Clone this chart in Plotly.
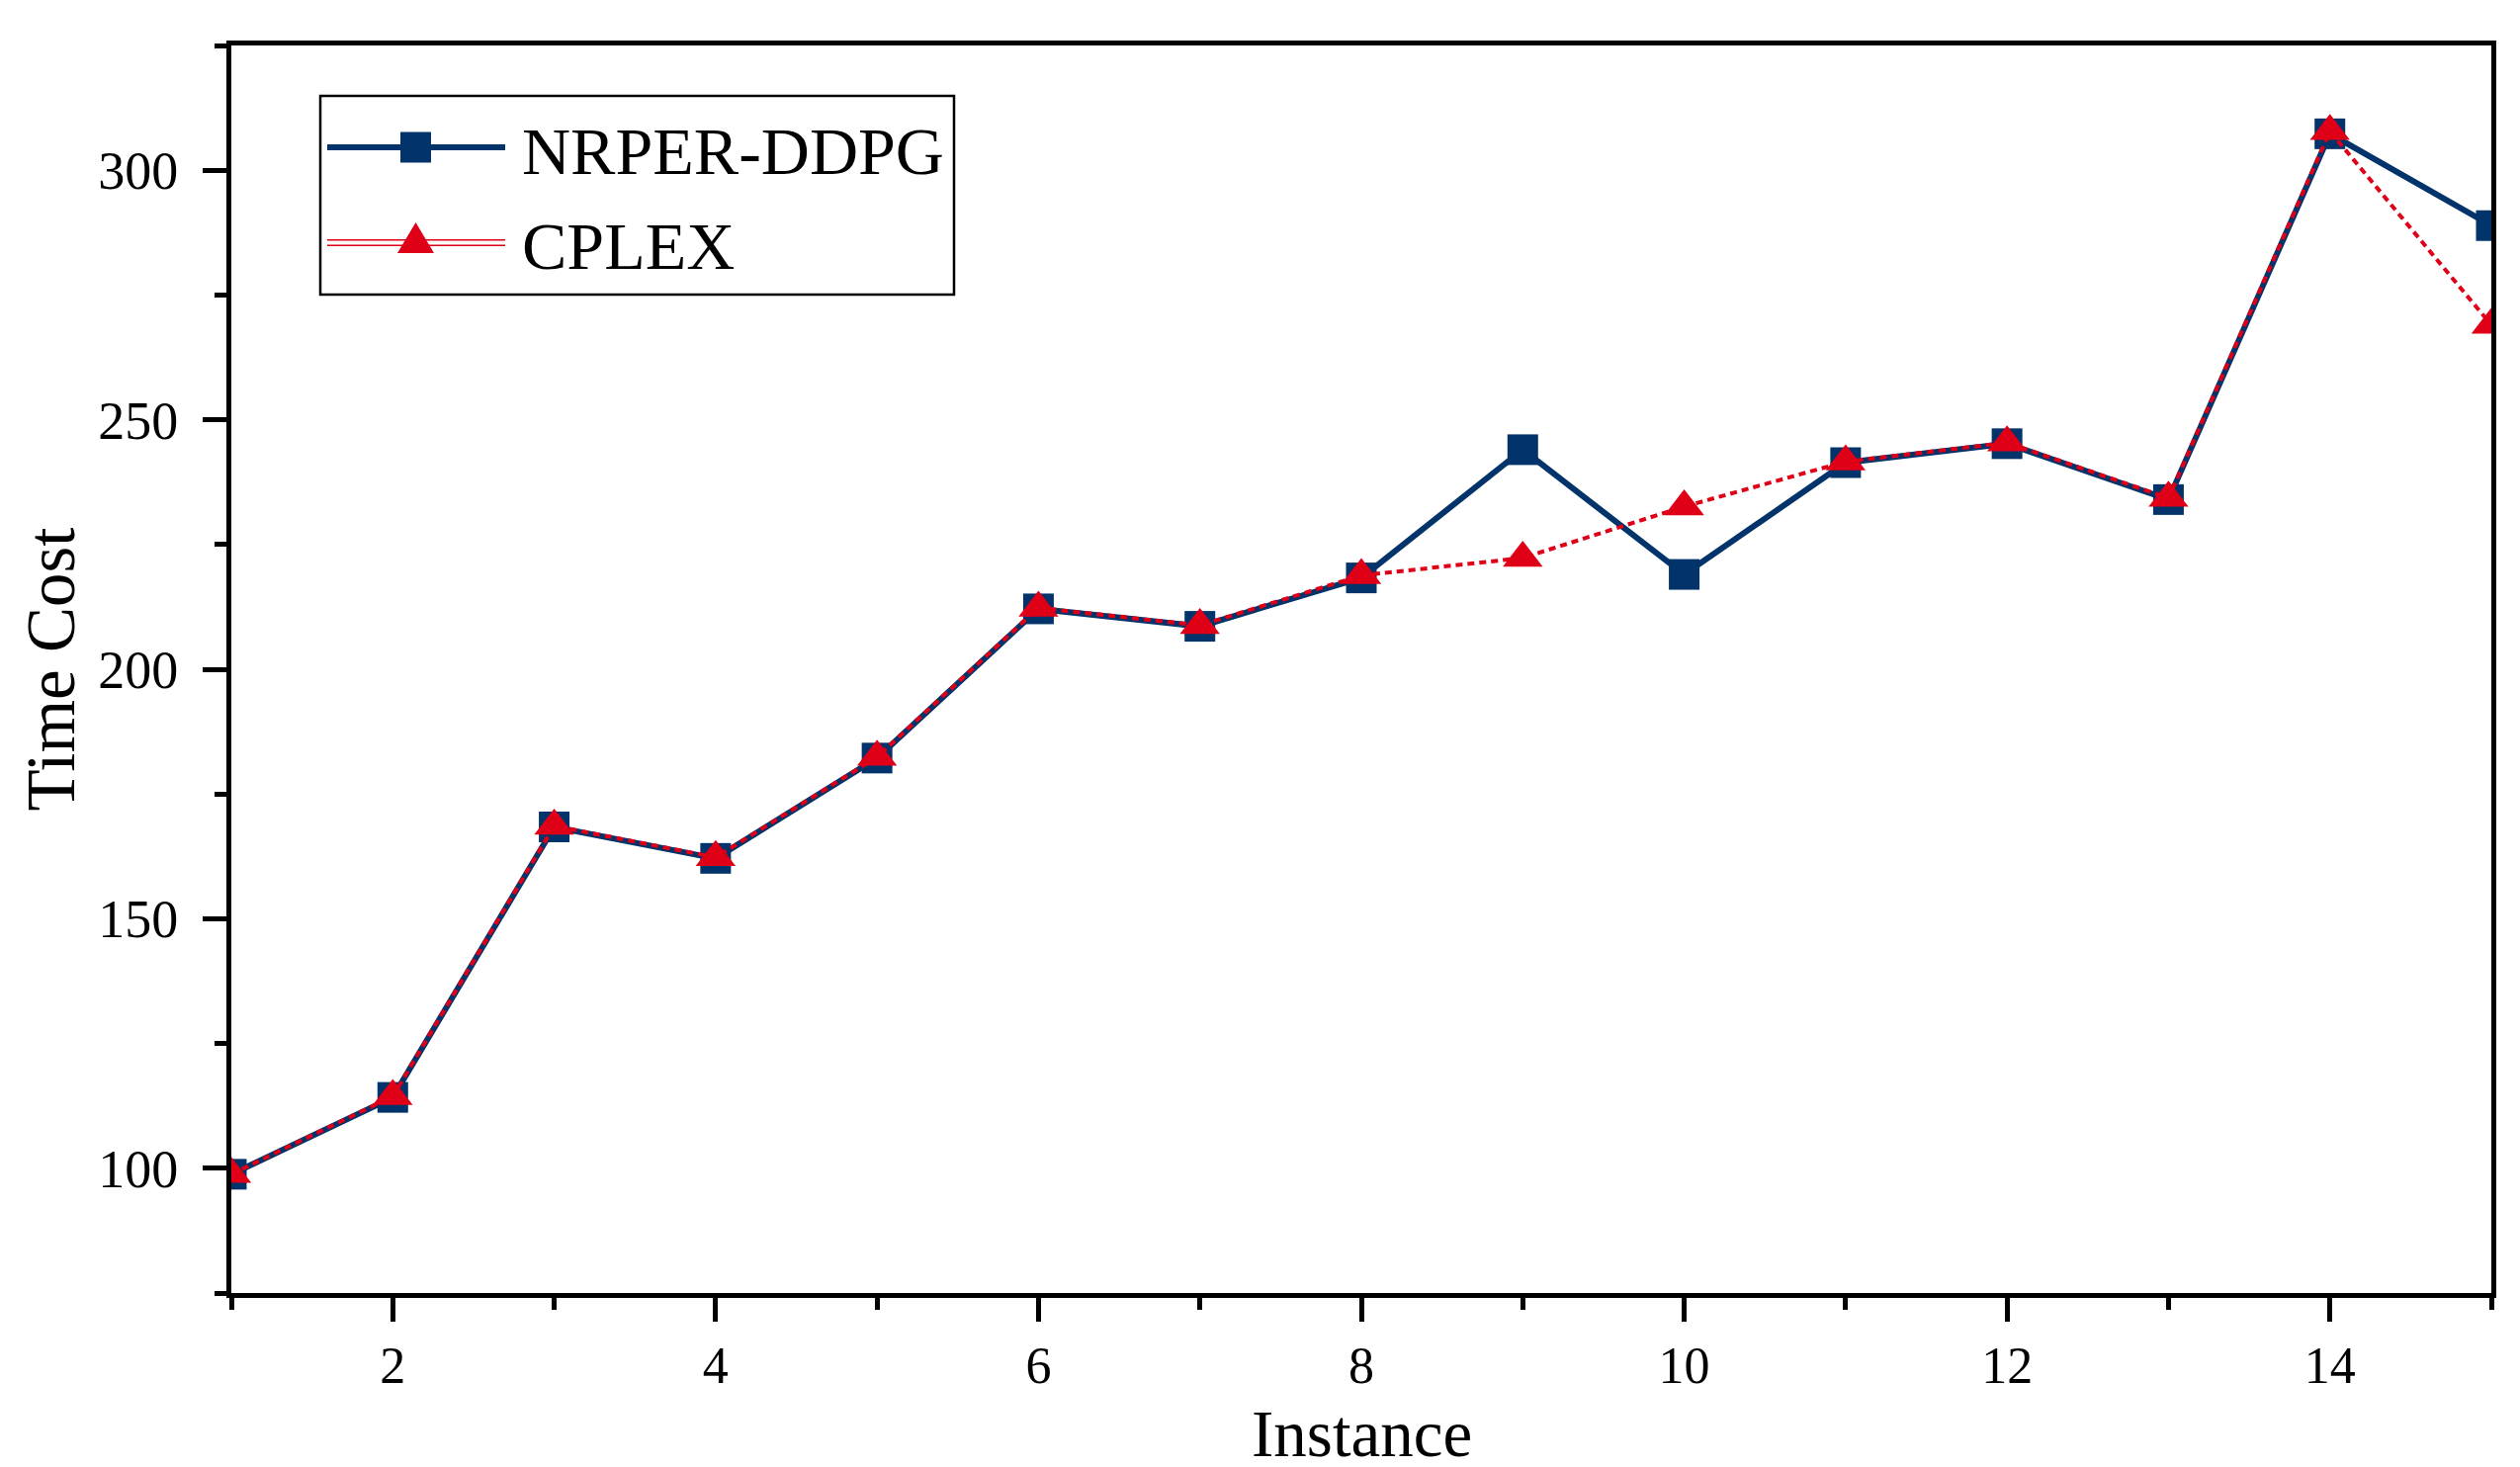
import plotly.graph_objects as go

instances = list(range(1, 16))
nrper_ddpg = [98.8, 114.2, 168.4, 162.1, 182.2, 212.1, 208.6, 218.3, 244.0, 219.0,
              241.4, 245.2, 234.0, 307.3, 288.9]
cplex = [98.8, 114.4, 168.6, 162.3, 182.4, 212.3, 208.8, 218.8, 222.3, 232.6,
         241.6, 245.4, 234.3, 307.8, 269.0]
series_names = ["NRPER-DDPG", "CPLEX"]
x_title = "Instance"
y_title = "Time Cost"

NAVY = "#02336A"
RED = "#DF0018"
FONT = "Liberation Serif"

W, H = 2549, 1484
ML, MR, MT, MB = 226, 37, 38, 184
PW, PH = W - ML - MR, H - MT - MB


def px(xp):
    return (xp - ML) / PW


def py(yp):
    return (H - MB - yp) / PH


fig = go.Figure()
fig.add_trace(go.Scatter(
    x=instances, y=nrper_ddpg, name=series_names[0], mode="lines+markers",
    line=dict(color=NAVY, width=6),
    marker=dict(symbol="square", size=31, color=NAVY),
    cliponaxis=True, showlegend=False,
))
fig.add_trace(go.Scatter(
    x=instances, y=cplex, name=series_names[1], mode="lines+markers",
    line=dict(color=RED, width=4, dash="7px,5px"),
    marker=dict(symbol="triangle-up", size=35, color=RED),
    cliponaxis=True, showlegend=False,
))

axis_common = dict(
    showline=True, linecolor="black", linewidth=5, mirror=True,
    ticks="outside", ticklen=24, tickwidth=5, tickcolor="black",
    showgrid=False, zeroline=False,
)

fig.update_xaxes(
    range=[1, 15], tick0=0, dtick=2,
    minor=dict(dtick=1, ticks="outside", ticklen=12, tickwidth=5, tickcolor="black"),
    ticklabelstandoff=0,
    tickfont=dict(family=FONT, size=52, color="black"),
    **axis_common,
)
fig.update_yaxes(
    range=[75, 325], tick0=0, dtick=50,
    minor=dict(dtick=25, ticks="outside", ticklen=12, tickwidth=5, tickcolor="black"),
    ticklabelstandoff=14,
    tickfont=dict(family=FONT, size=54, color="black"),
    title=dict(text=y_title, font=dict(family=FONT, size=69, color="black"), standoff=3),
    **axis_common,
)

# ---- legend drawn as a framed key box (pixel layout converted to paper coords) ----
shapes = []
annotations = []
box = dict(x0=316, x1=957, y0=89, y1=290)
shapes.append(dict(type="rect", xref="paper", yref="paper",
                   x0=px(box["x0"]), x1=px(box["x1"]), y0=py(box["y1"]), y1=py(box["y0"]),
                   line=dict(color="black", width=2.5), fillcolor="white", layer="above"))
r1 = 141
shapes.append(dict(type="line", xref="paper", yref="paper",
                   x0=px(323), x1=px(503), y0=py(r1), y1=py(r1),
                   line=dict(color=NAVY, width=6), layer="above"))
shapes.append(dict(type="rect", xref="paper", yref="paper",
                   x0=px(397), x1=px(428), y0=py(r1 + 15.5), y1=py(r1 - 15.5),
                   line=dict(width=0), fillcolor=NAVY, layer="above"))
r2 = 237.5
for dy in (-2.7, 2.7):
    shapes.append(dict(type="line", xref="paper", yref="paper",
                       x0=px(323), x1=px(503), y0=py(r2 + dy), y1=py(r2 + dy),
                       line=dict(color=RED, width=1.6), layer="above"))
tri = [(394, 248), (431, 248), (412.5, 217)]
path = "M {} {} L {} {} L {} {} Z".format(
    px(tri[0][0]), py(tri[0][1]), px(tri[1][0]), py(tri[1][1]), px(tri[2][0]), py(tri[2][1]))
shapes.append(dict(type="path", xref="paper", yref="paper", path=path,
                   line=dict(width=0), fillcolor=RED, layer="above"))

for name, yc in zip(series_names, (145, 240.5)):
    annotations.append(dict(text=name, xref="paper", yref="paper",
                            x=px(518), y=py(yc), xanchor="left", yanchor="middle",
                            showarrow=False,
                            font=dict(family=FONT, size=68, color="black")))

# x-axis title
annotations.append(dict(text=x_title, xref="paper", yref="paper",
                        x=0.5, y=py(1481), xanchor="center", yanchor="bottom",
                        showarrow=False,
                        font=dict(family=FONT, size=67, color="black")))

fig.update_layout(
    width=W, height=H,
    margin=dict(l=ML, r=MR, t=MT, b=MB, autoexpand=False),
    paper_bgcolor="white", plot_bgcolor="white",
    showlegend=False,
    shapes=shapes, annotations=annotations,
)

fig.write_html("out.html")
